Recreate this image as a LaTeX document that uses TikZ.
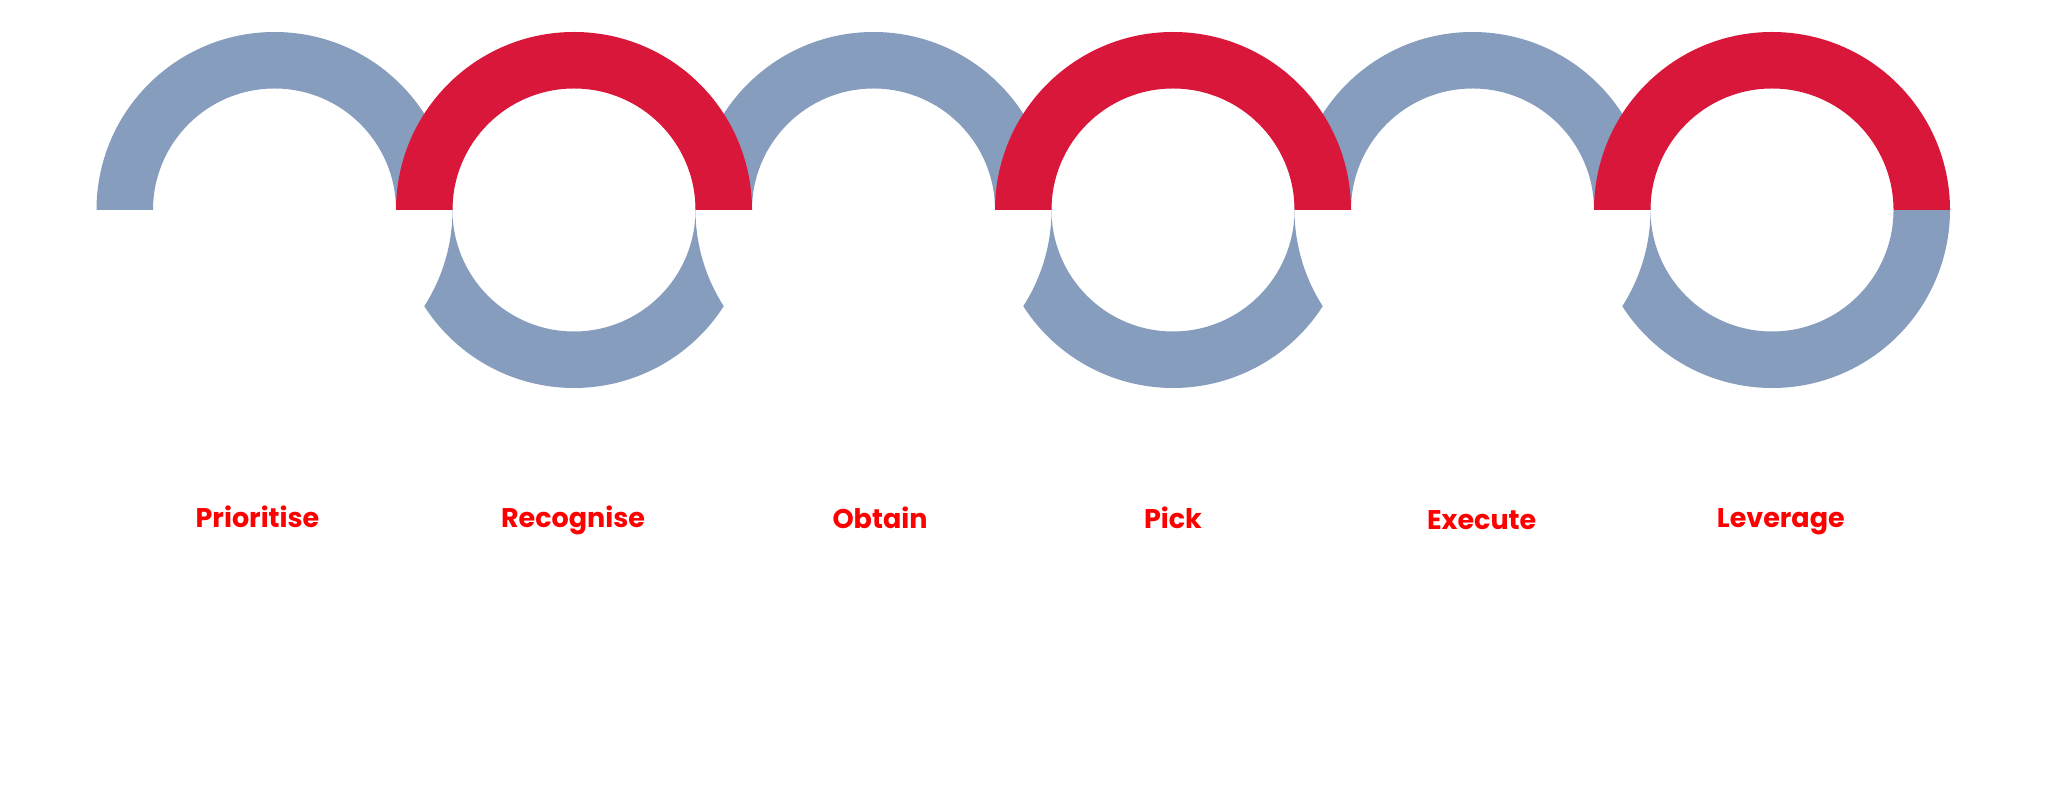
\documentclass[tikz,border=0pt]{standalone}
\usepackage{fontspec}
\setmainfont{Poppins}
\definecolor{ringblue}{HTML}{879DBE}
\definecolor{ringred}{HTML}{D9173A}
\definecolor{labelred}{HTML}{FF0000}
\begin{document}
\begin{tikzpicture}[x=1pt,y=1pt,
  bluering/.style={fill=ringblue},
  redring/.style={fill=ringred},
  steplabel/.style={anchor=base,text=labelred,font=\bfseries\fontsize{27}{27}\selectfont}]
\useasboundingbox (0,0) rectangle (2048,809);
% Upper blue rings
\fill[bluering] (96.5,599) arc (180:0:178) -- (396,599) arc (0:180:121.5) -- cycle;
\fill[bluering] (695.5,599) arc (180:0:178) -- (995,599) arc (0:180:121.5) -- cycle;
\fill[bluering] (1294.5,599) arc (180:0:178) -- (1594,599) arc (0:180:121.5) -- cycle;
% Lower blue rings
\fill[bluering] (452.5,599) arc (0:-32.72:178) arc (212.72:327.28:178) arc (212.72:180:178) arc (0:-180:121.5) -- cycle;
\fill[bluering] (1051.5,599) arc (0:-32.72:178) arc (212.72:327.28:178) arc (212.72:180:178) arc (0:-180:121.5) -- cycle;
\fill[bluering] (1650.5,599) arc (0:-32.72:178) arc (212.72:360:178) -- (1893.5,599) arc (0:-180:121.5) -- cycle;
% Upper red rings
\fill[redring] (396,599) arc (180:0:178) -- (695.5,599) arc (0:180:121.5) -- cycle;
\fill[redring] (995,599) arc (180:0:178) -- (1294.5,599) arc (0:180:121.5) -- cycle;
\fill[redring] (1594,599) arc (180:0:178) -- (1893.5,599) arc (0:180:121.5) -- cycle;
% Labels
\node[steplabel] (prioritise) at (257.5,281) {Prioritise};
\node[steplabel] (recognise) at (573,281) {Recognise};
\node[steplabel] (obtain) at (880,280) {Obtain};
\node[steplabel] (pick) at (1173,280) {Pick};
\node[steplabel] (execute) at (1481.7,279) {Execute};
\node[steplabel] (leverage) at (1780.8,281.5) {Leverage};
\end{tikzpicture}
\end{document}
